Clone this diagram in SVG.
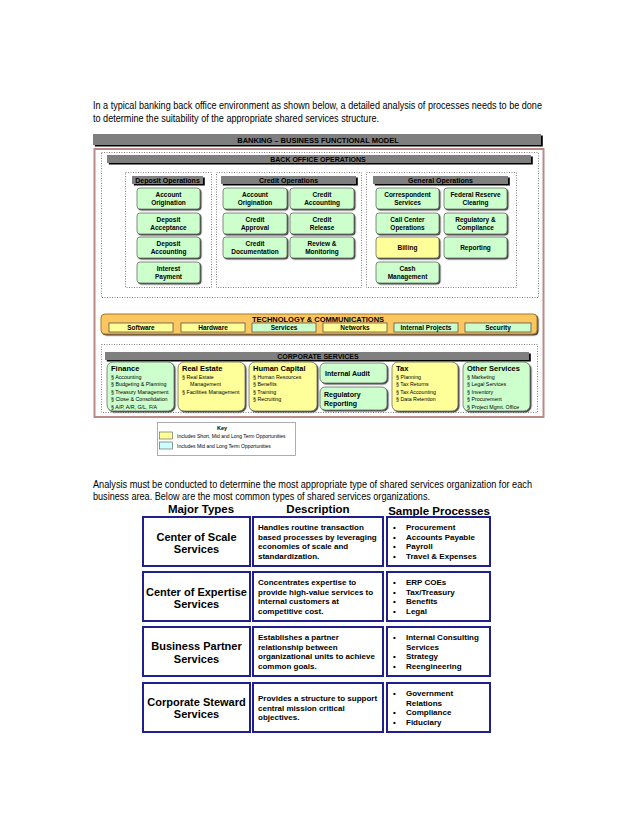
<svg xmlns="http://www.w3.org/2000/svg" width="638" height="826" viewBox="0 0 638 826">
<defs>
<filter id="sh" x="-10%" y="-10%" width="125%" height="140%"><feDropShadow dx="1.2" dy="1.2" stdDeviation="0.3" flood-color="#444"/></filter>
<filter id="bsh" x="-5%" y="-20%" width="110%" height="160%"><feDropShadow dx="1.8" dy="1.5" stdDeviation="0" flood-color="#000"/></filter>
<style>
text{font-family:"Liberation Sans",Arial,sans-serif;fill:#000}
.para{font-size:11.5px}
.bar{fill:#7f7f7f;filter:url(#bsh)}
.bart{font-size:7.5px;font-weight:bold;text-anchor:middle}
.lbl{font-size:7px;font-weight:bold;text-anchor:middle}
.dot{fill:none;stroke:#808080;stroke-width:1;stroke-dasharray:1 1.5}
.g{fill:#ccffcc;stroke:#6b6b6b;stroke-width:0.8;filter:url(#sh)}
.y{fill:#ffff99;stroke:#6b6b6b;stroke-width:0.8;filter:url(#sh)}
.bt{font-size:6.5px;font-weight:bold;text-anchor:middle}
.tb{font-size:6.5px;font-weight:bold;text-anchor:middle}
.ch{font-size:7.5px;font-weight:bold}
.ci{font-size:5.3px}
.ct{font-size:7px;font-weight:bold}
.kt{font-size:5px}
.hd{font-size:11.5px;font-weight:bold;text-anchor:middle}
.cell{fill:#fff;stroke:#1f1f8f;stroke-width:2}
.c1{font-size:11px;font-weight:bold;text-anchor:middle}
.c2{font-size:8px;font-weight:bold}
</style>
</defs>
<rect width="638" height="826" fill="#fff"/>

<g id="intro">
<text class="para" transform="matrix(0.78 0 0 1 93 108.5)" x="0" y="0" textLength="575.6" lengthAdjust="spacingAndGlyphs">In a typical banking back office environment as shown below, a detailed analysis of processes needs to be done</text>
<text class="para" transform="matrix(0.78 0 0 1 93 121.5)" x="0" y="0" textLength="366.7" lengthAdjust="spacingAndGlyphs">to determine the suitability of the appropriate shared services structure.</text>
</g>

<g id="banking-title">
<rect class="bar" x="93" y="134" width="448" height="11"/>
<text class="bart" x="318" y="142.5">BANKING – BUSINESS FUNCTIONAL MODEL</text>
</g>

<g id="frame">
<rect x="94.5" y="149" width="449" height="268" fill="none" stroke="#b88a8a" stroke-width="2"/>
</g>

<g id="back-office">
<rect class="dot" x="101.5" y="152.5" width="437" height="145"/>
<rect class="bar" x="107" y="155" width="424" height="8"/>
<text class="lbl" x="318" y="161.5">BACK OFFICE OPERATIONS</text>
</g>

<g id="deposit-operations">
<rect class="dot" x="125.5" y="172.5" width="86" height="115"/>
<rect class="bar" x="132" y="176" width="71" height="8"/>
<text class="lbl" x="167.5" y="182.5">Deposit Operations</text>
<g id="dep-account-origination"><rect class="g" x="137" y="188" width="63" height="21" rx="3"/><text class="bt" x="168.5" y="196.5">Account</text><text class="bt" x="168.5" y="205">Origination</text></g>
<g id="dep-deposit-acceptance"><rect class="g" x="137" y="213" width="63" height="21" rx="3"/><text class="bt" x="168.5" y="221.5">Deposit</text><text class="bt" x="168.5" y="230">Acceptance</text></g>
<g id="dep-deposit-accounting"><rect class="g" x="137" y="237" width="63" height="21" rx="3"/><text class="bt" x="168.5" y="245.5">Deposit</text><text class="bt" x="168.5" y="254">Accounting</text></g>
<g id="dep-interest-payment"><rect class="g" x="137" y="262" width="63" height="21" rx="3"/><text class="bt" x="168.5" y="270.5">Interest</text><text class="bt" x="168.5" y="279">Payment</text></g>
</g>

<g id="credit-operations">
<rect class="dot" x="216.5" y="172.5" width="145" height="115"/>
<rect class="bar" x="221" y="176" width="135" height="8"/>
<text class="lbl" x="288.5" y="182.5">Credit Operations</text>
<g id="cr-account-origination"><rect class="g" x="223" y="188" width="64" height="21" rx="3"/><text class="bt" x="255" y="196.5">Account</text><text class="bt" x="255" y="205">Origination</text></g>
<g id="cr-credit-accounting"><rect class="g" x="290" y="188" width="64" height="21" rx="3"/><text class="bt" x="322" y="196.5">Credit</text><text class="bt" x="322" y="205">Accounting</text></g>
<g id="cr-credit-approval"><rect class="g" x="223" y="213" width="64" height="21" rx="3"/><text class="bt" x="255" y="221.5">Credit</text><text class="bt" x="255" y="230">Approval</text></g>
<g id="cr-credit-release"><rect class="g" x="290" y="213" width="64" height="21" rx="3"/><text class="bt" x="322" y="221.5">Credit</text><text class="bt" x="322" y="230">Release</text></g>
<g id="cr-credit-documentation"><rect class="g" x="223" y="237" width="64" height="21" rx="3"/><text class="bt" x="255" y="245.5">Credit</text><text class="bt" x="255" y="254">Documentation</text></g>
<g id="cr-review-monitoring"><rect class="g" x="290" y="237" width="64" height="21" rx="3"/><text class="bt" x="322" y="245.5">Review &amp;</text><text class="bt" x="322" y="254">Monitoring</text></g>
</g>

<g id="general-operations">
<rect class="dot" x="366.5" y="172.5" width="150" height="115"/>
<rect class="bar" x="373" y="176" width="135" height="8"/>
<text class="lbl" x="440.5" y="182.5">General Operations</text>
<g id="gen-correspondent-services"><rect class="g" x="376" y="188" width="63" height="21" rx="3"/><text class="bt" x="407.5" y="196.5">Correspondent</text><text class="bt" x="407.5" y="205">Services</text></g>
<g id="gen-federal-reserve-clearing"><rect class="g" x="444" y="188" width="63" height="21" rx="3"/><text class="bt" x="475.5" y="196.5">Federal Reserve</text><text class="bt" x="475.5" y="205">Clearing</text></g>
<g id="gen-call-center-operations"><rect class="g" x="376" y="213" width="63" height="21" rx="3"/><text class="bt" x="407.5" y="221.5">Call Center</text><text class="bt" x="407.5" y="230">Operations</text></g>
<g id="gen-regulatory-compliance"><rect class="g" x="444" y="213" width="63" height="21" rx="3"/><text class="bt" x="475.5" y="221.5">Regulatory &amp;</text><text class="bt" x="475.5" y="230">Compliance</text></g>
<g id="gen-billing"><rect class="y" x="376" y="237" width="63" height="21" rx="3"/><text class="bt" x="407.5" y="250">Billing</text></g>
<g id="gen-reporting"><rect class="g" x="444" y="237" width="63" height="21" rx="3"/><text class="bt" x="475.5" y="250">Reporting</text></g>
<g id="gen-cash-management"><rect class="g" x="376" y="262" width="63" height="21" rx="3"/><text class="bt" x="407.5" y="270.5">Cash</text><text class="bt" x="407.5" y="279">Management</text></g>
</g>

<g id="technology-communications">
<rect x="101" y="314" width="436" height="20" rx="4" fill="#fcc75f" stroke="#a27a2a" stroke-width="1" filter="url(#sh)"/>
<text class="lbl" x="318" y="321.5" style="font-size:7.5px">TECHNOLOGY &amp; COMMUNICATIONS</text>
<g id="tech-software"><rect x="109" y="323" width="64" height="9" fill="#ffff99" stroke="#555" stroke-width="0.8"/><text class="tb" x="141" y="330">Software</text></g>
<g id="tech-hardware"><rect x="181" y="323" width="64" height="9" fill="#ffff99" stroke="#555" stroke-width="0.8"/><text class="tb" x="213" y="330">Hardware</text></g>
<g id="tech-services"><rect x="252" y="323" width="64" height="9" fill="#ccffcc" stroke="#555" stroke-width="0.8"/><text class="tb" x="284" y="330">Services</text></g>
<g id="tech-networks"><rect x="323" y="323" width="64" height="9" fill="#ffff99" stroke="#555" stroke-width="0.8"/><text class="tb" x="355" y="330">Networks</text></g>
<g id="tech-internal-projects"><rect x="394" y="323" width="64" height="9" fill="#ccffcc" stroke="#555" stroke-width="0.8"/><text class="tb" x="426" y="330">Internal Projects</text></g>
<g id="tech-security"><rect x="465" y="323" width="66" height="9" fill="#ccffcc" stroke="#555" stroke-width="0.8"/><text class="tb" x="498" y="330">Security</text></g>
</g>

<g id="corporate-services">
<rect class="dot" x="101.5" y="344.5" width="436" height="68"/>
<rect class="bar" x="105" y="352" width="424" height="8"/>
<text class="lbl" x="318" y="358.5">CORPORATE SERVICES</text>
<g id="corp-finance"><rect class="g" x="107" y="362" width="67" height="49" rx="6"/>
<text class="ch" x="111" y="370.5">Finance</text>
<text class="ci" x="111" y="378.5">§ Accounting</text><text class="ci" x="111" y="386">§ Budgeting &amp; Planning</text><text class="ci" x="111" y="393.5">§ Treasury Management</text><text class="ci" x="111" y="401">§ Close &amp; Consolidation</text><text class="ci" x="111" y="408.5">§ A/P, A/R, G/L, F/A</text></g>
<g id="corp-real-estate"><rect class="y" x="178" y="362" width="67" height="49" rx="6"/>
<text class="ch" x="182" y="370.5">Real Estate</text>
<text class="ci" x="182" y="378.5">§ Real Estate</text><text class="ci" x="190" y="386">Management</text><text class="ci" x="182" y="393.5">§ Facilities Management</text></g>
<g id="corp-human-capital"><rect class="y" x="249" y="362" width="68" height="49" rx="6"/>
<text class="ch" x="253" y="370.5">Human Capital</text>
<text class="ci" x="253" y="378.5">§ Human Resources</text><text class="ci" x="253" y="386">§ Benefits</text><text class="ci" x="253" y="393.5">§ Training</text><text class="ci" x="253" y="401">§ Recruiting</text></g>
<g id="corp-internal-audit"><rect class="g" x="320" y="363" width="67" height="20" rx="5"/>
<text class="ct" x="325" y="375.5">Internal Audit</text></g>
<g id="corp-regulatory-reporting"><rect class="g" x="320" y="387" width="67" height="23" rx="5"/>
<text class="ct" x="324" y="396.5">Regulatory</text><text class="ct" x="324" y="405.5">Reporting</text></g>
<g id="corp-tax"><rect class="y" x="392" y="362" width="66" height="49" rx="6"/>
<text class="ch" x="396" y="370.5">Tax</text>
<text class="ci" x="396" y="378.5">§ Planning</text><text class="ci" x="396" y="386">§ Tax Returns</text><text class="ci" x="396" y="393.5">§ Tax Accounting</text><text class="ci" x="396" y="401">§ Data Retention</text></g>
<g id="corp-other-services"><rect class="g" x="463" y="362" width="67" height="49" rx="6"/>
<text class="ch" x="467" y="370.5">Other Services</text>
<text class="ci" x="467" y="378.5">§ Marketing</text><text class="ci" x="467" y="386">§ Legal Services</text><text class="ci" x="467" y="393.5">§ Inventory</text><text class="ci" x="467" y="401">§ Procurement</text><text class="ci" x="467" y="408.5">§ Project Mgmt. Office</text></g>
</g>

<g id="key">
<rect x="157.5" y="422.5" width="138" height="33" fill="#fff" stroke="#999" stroke-width="0.8"/>
<text x="222" y="429.5" style="font-size:5.5px;font-weight:bold;text-anchor:middle">Key</text>
<rect x="159.5" y="432" width="13" height="7" fill="#ffff99" stroke="#555" stroke-width="0.6"/>
<text class="kt" x="177" y="437.5">Includes Short, Mid and Long Term Opportunities</text>
<rect x="159.5" y="442" width="13" height="7" fill="#ccffff" stroke="#555" stroke-width="0.6"/>
<text class="kt" x="177" y="447.5">Includes Mid and Long Term Opportunities</text>
</g>

<g id="connectors"></g>

<g id="analysis-text">
<text class="para" transform="matrix(0.78 0 0 1 93 488)" x="0" y="0" textLength="562.8" lengthAdjust="spacingAndGlyphs">Analysis must be conducted to determine the most appropriate type of shared services organization for each</text>
<text class="para" transform="matrix(0.78 0 0 1 93 500)" x="0" y="0" textLength="432" lengthAdjust="spacingAndGlyphs">business area.  Below are the most common types of shared services organizations.</text>
</g>

<g id="table-headers">
<text class="hd" x="201" y="513">Major Types</text>
<text class="hd" x="318" y="513">Description</text>
<text class="hd" x="439" y="515">Sample Processes</text>
</g>

<g id="row-center-of-scale">
<rect class="cell" x="143" y="517" width="107" height="49"/>
<rect class="cell" x="253" y="517" width="130" height="49"/>
<rect class="cell" x="387" y="517" width="103" height="49"/>
<text class="c1" x="196.5" y="540.5">Center of Scale</text><text class="c1" x="196.5" y="553">Services</text>
<text class="c2" x="258" y="530">Handles routine transaction</text><text class="c2" x="258" y="539.7">based processes by leveraging</text><text class="c2" x="258" y="549.3">economies of scale and</text><text class="c2" x="258" y="559">standardization.</text>
<text class="c2" x="393" y="530">•</text><text class="c2" x="406" y="530">Procurement</text>
<text class="c2" x="393" y="539.7">•</text><text class="c2" x="406" y="539.7">Accounts Payable</text>
<text class="c2" x="393" y="549.3">•</text><text class="c2" x="406" y="549.3">Payroll</text>
<text class="c2" x="393" y="559">•</text><text class="c2" x="406" y="559">Travel &amp; Expenses</text>
</g>

<g id="row-center-of-expertise">
<rect class="cell" x="143" y="572" width="107" height="49"/>
<rect class="cell" x="253" y="572" width="130" height="49"/>
<rect class="cell" x="387" y="572" width="103" height="49"/>
<text class="c1" x="196.5" y="595.5">Center of Expertise</text><text class="c1" x="196.5" y="608">Services</text>
<text class="c2" x="258" y="585">Concentrates expertise to</text><text class="c2" x="258" y="594.7">provide high-value services to</text><text class="c2" x="258" y="604.3">internal customers at</text><text class="c2" x="258" y="614">competitive cost.</text>
<text class="c2" x="393" y="585">•</text><text class="c2" x="406" y="585">ERP COEs</text>
<text class="c2" x="393" y="594.7">•</text><text class="c2" x="406" y="594.7">Tax/Treasury</text>
<text class="c2" x="393" y="604.3">•</text><text class="c2" x="406" y="604.3">Benefits</text>
<text class="c2" x="393" y="614">•</text><text class="c2" x="406" y="614">Legal</text>
</g>

<g id="row-business-partner">
<rect class="cell" x="143" y="627" width="107" height="49"/>
<rect class="cell" x="253" y="627" width="130" height="49"/>
<rect class="cell" x="387" y="627" width="103" height="49"/>
<text class="c1" x="196.5" y="650">Business Partner</text><text class="c1" x="196.5" y="662.5">Services</text>
<text class="c2" x="258" y="640">Establishes a partner</text><text class="c2" x="258" y="649.7">relationship between</text><text class="c2" x="258" y="659.3">organizational units to achieve</text><text class="c2" x="258" y="669">common goals.</text>
<text class="c2" x="393" y="640">•</text><text class="c2" x="406" y="640">Internal Consulting</text>
<text class="c2" x="406" y="649.7">Services</text>
<text class="c2" x="393" y="659.3">•</text><text class="c2" x="406" y="659.3">Strategy</text>
<text class="c2" x="393" y="669">•</text><text class="c2" x="406" y="669">Reengineering</text>
</g>

<g id="row-corporate-steward">
<rect class="cell" x="143" y="683" width="107" height="49"/>
<rect class="cell" x="253" y="683" width="130" height="49"/>
<rect class="cell" x="387" y="683" width="103" height="49"/>
<text class="c1" x="196.5" y="705.5">Corporate Steward</text><text class="c1" x="196.5" y="718">Services</text>
<text class="c2" x="258" y="701">Provides a structure to support</text><text class="c2" x="258" y="710.6">central mission critical</text><text class="c2" x="258" y="720.3">objectives.</text>
<text class="c2" x="393" y="696">•</text><text class="c2" x="406" y="696">Government</text>
<text class="c2" x="406" y="705.6">Relations</text>
<text class="c2" x="393" y="715.3">•</text><text class="c2" x="406" y="715.3">Compliance</text>
<text class="c2" x="393" y="725">•</text><text class="c2" x="406" y="725">Fiduciary</text>
</g>
</svg>
